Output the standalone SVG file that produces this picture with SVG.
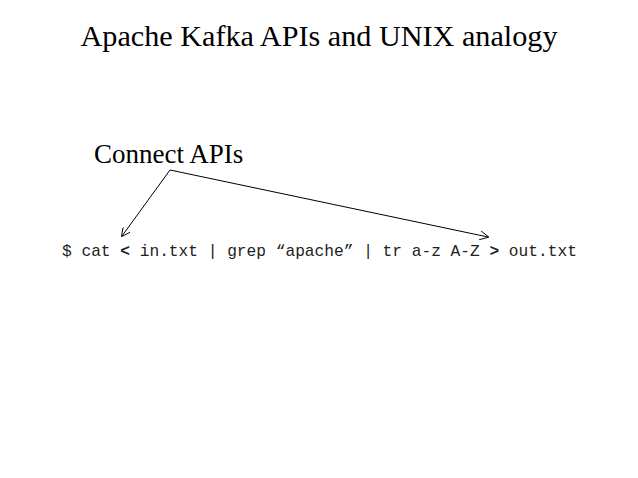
<svg xmlns="http://www.w3.org/2000/svg" width="638" height="478" viewBox="0 0 638 478">
<style>
.serif{font-family:"Liberation Serif","DejaVu Serif",serif;fill:#000}
.mono{font-family:"Liberation Mono","DejaVu Sans Mono",monospace;font-size:16.2px;fill:#222;white-space:pre}
.conn{stroke:#000;stroke-width:1;fill:none}
</style>
<defs>
<marker id="arr" viewBox="0 0 10 10" refX="9" refY="5" markerWidth="9" markerHeight="9" orient="auto" markerUnits="userSpaceOnUse">
<path d="M0,0 L10,5 L0,10" fill="none" stroke="#000" stroke-width="1"/>
</marker>
</defs>
<g id="title"><text class="serif" x="319" y="46" font-size="30.2" text-anchor="middle">Apache Kafka APIs and UNIX analogy</text></g>
<g id="connect"><text class="serif" x="94" y="163" font-size="27">Connect APIs</text></g>
<g id="command"><text class="mono" x="62" y="256">$ cat <tspan font-weight="bold">&lt;</tspan> in.txt | grep “apache” | tr a-z A-Z <tspan font-weight="bold">&gt;</tspan> out.txt</text></g>
<g id="connectors">
<path class="conn" d="M170,170 L122,236" marker-end="url(#arr)"/>
<path class="conn" d="M170,170 L488,237" marker-end="url(#arr)"/>
</g>
</svg>
